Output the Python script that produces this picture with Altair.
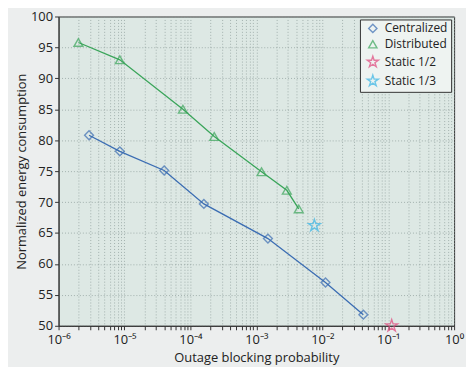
import altair as alt
import pandas as pd

central_x = [2.9e-6, 8.5e-6, 4.0e-5, 1.6e-4, 1.5e-3, 1.12e-2, 4.2e-2]
central_y = [80.8, 78.2, 75.1, 69.7, 64.1, 57.0, 51.8]
dist_x = [2.0e-6, 8.5e-6, 7.7e-5, 2.3e-4, 1.2e-3, 2.9e-3, 4.4e-3]
dist_y = [95.8, 93.0, 85.0, 80.6, 74.9, 71.9, 68.9]
static12_x = [1.13e-1]
static12_y = [50.0]
static13_x = [7.6e-3]
static13_y = [66.2]

series_names = ["Centralized", "Distributed", "Static 1/2", "Static 1/3"]
series_colors = ["#3b6db3", "#3aa55a", "#e0457b", "#36b4e5"]
star = ("M0,-1.4L0.313,-0.43L1.331,-0.433L0.506,0.164L0.823,1.133L0,0.532"
        "L-0.823,1.133L-0.506,0.164L-1.331,-0.433L-0.313,-0.43Z")
series_shapes = ["diamond", "triangle-up", star, star]

y_ticks = [50, 55, 60, 65, 70, 75, 80, 85, 90, 95, 100]
x_ticks = [m * 10.0 ** e for e in range(-6, 0) for m in range(1, 10)] + [1.0]

rows = []
for name, xs, ys in [("Centralized", central_x, central_y),
                     ("Distributed", dist_x, dist_y),
                     ("Static 1/2", static12_x, static12_y),
                     ("Static 1/3", static13_x, static13_y)]:
    for xv, yv in zip(xs, ys):
        rows.append({"series": name, "x": xv, "y": yv})
df = pd.DataFrame(rows)

FONT = "Open Sans"
label_expr = ("abs(log(datum.value)/LN10 - round(log(datum.value)/LN10)) < 0.001 ? "
              "['10⁻⁶','10⁻⁵','10⁻⁴','10⁻³','10⁻²','10⁻¹','10⁰'][round(log(datum.value)/LN10)+6] : ''")

x_enc = alt.X("x:Q", scale=alt.Scale(type="log", domain=[1e-6, 1]),
              axis=alt.Axis(values=x_ticks, labelExpr=label_expr, title="Outage blocking probability",
                            grid=True, gridDash=[1, 2], gridColor="#8a9a96", gridOpacity=0.7,
                            tickSize=4, tickColor="#333", domainColor="#333",
                            labelFontSize=13, labelColor="#222", labelFont=FONT,
                            titleFont=FONT, titleFontSize=13, titleFontWeight="normal",
                            titleColor="#222", titlePadding=5, labelPadding=4, labelFlush=False))
y_enc = alt.Y("y:Q", scale=alt.Scale(domain=[50, 100], nice=False, zero=False),
              axis=alt.Axis(values=y_ticks, title="Normalized energy consumption",
                            grid=True, gridDash=[1, 2], gridColor="#8a9a96", gridOpacity=0.7,
                            tickSize=4, tickColor="#333", domainColor="#333",
                            labelFontSize=13, labelColor="#222", labelFont=FONT,
                            titleFont=FONT, titleFontSize=13, titleFontWeight="normal",
                            titleColor="#222", titlePadding=2, labelPadding=2))

legend = alt.Legend(title=None, orient="top-right", offset=3,
                    fillColor="#eef3f1", strokeColor="#333", padding=3,
                    labelFontSize=12, labelFont=FONT, labelColor="#222", labelLimit=120,
                    symbolSize=70, symbolStrokeWidth=1.4, rowPadding=2, labelOffset=6,
                    symbolOffset=4)
color_scale = alt.Scale(domain=series_names, range=series_colors)

lines = alt.Chart(df).transform_filter(
    alt.FieldOneOfPredicate(field="series", oneOf=["Centralized", "Distributed"])
).mark_line(strokeWidth=1.3).encode(
    x=x_enc, y=y_enc, color=alt.Color("series:N", scale=color_scale, legend=legend))

points = alt.Chart(df).mark_point(filled=False, strokeWidth=1.4, size=80).encode(
    x=x_enc, y=y_enc,
    color=alt.Color("series:N", scale=color_scale, legend=legend),
    shape=alt.Shape("series:N", scale=alt.Scale(domain=series_names, range=series_shapes),
                    legend=legend))

chart = alt.layer(lines, points).properties(
    width=399, height=312,
    background="#eceeee",
    padding={"left": 51, "top": 7, "right": 12, "bottom": 40},
    autosize=alt.AutoSizeParams(type="none"),
).configure_view(fill="#dde8e4", stroke="#333", strokeWidth=1)

chart.save("out.html", embed_options={"renderer": "svg", "actions": False})
